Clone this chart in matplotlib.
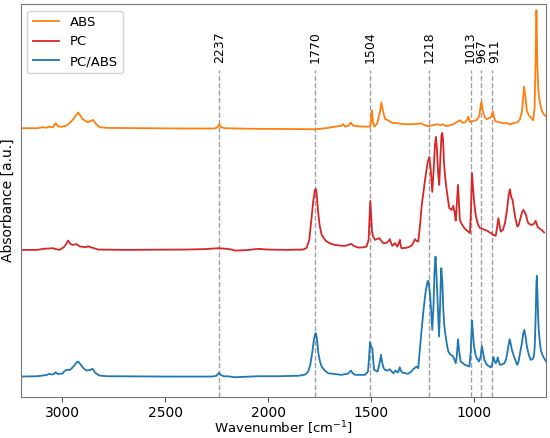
import numpy as np
import matplotlib
matplotlib.use('Agg')
import matplotlib.pyplot as plt

# ABS spectrum (wavenumber, absorbance above its baseline)
abs_wn = [3200, 3120, 3094, 3075, 3064, 3045, 3031, 3020, 3000, 2975, 2950, 2922, 2900, 2875, 2850,
          2830, 2817, 2780, 2600, 2400, 2260, 2245, 2237, 2228, 2210, 2100, 2000, 1900, 1800, 1770,
          1720, 1700, 1660, 1643, 1635, 1625, 1610, 1598, 1588, 1560, 1520, 1505, 1500, 1496, 1490,
          1484, 1470, 1458, 1450, 1443, 1432, 1418, 1400, 1376, 1340, 1297, 1270, 1259, 1245, 1224,
          1200, 1175, 1162, 1153, 1133, 1100, 1069, 1055, 1044, 1035, 1028, 1022, 1017, 1000, 988,
          975, 968, 964, 958, 948, 939, 923, 915, 909, 904, 897, 890, 860, 842, 825,
          810, 790, 777, 768, 762, 757, 751, 744, 735, 729, 713, 706, 701, 697, 693,
          688, 680, 670, 660, 650]
abs_y = [0, 0, 1, 0.5, 1.5, 0.8, 5, 1.8, 1.5, 3, 8, 15.7, 9, 6, 8.3,
         3, 1, 0.3, 0, -0.3, -0.3, 1, 4, 1, 0, -0.5, -0.7, -0.8, -1, -1,
         0, 0.7, 2, 2.5, 4, 1.5, 2.5, 5.7, 2.5, 1.8, 1.6, 1.5, 8, 17.7, 5,
         1.5, 5, 15, 25.7, 18, 9, 8, 5.5, 5, 4, 4, 4.5, 5, 3.5, 2,
         3, 4, 3, 4, 2, 4, 8, 5.5, 5.7, 8, 11.7, 7, 6, 7.5, 8,
         12, 22, 26, 18, 11, 9, 10.7, 12, 16.7, 12, 7, 6.7, 5, 5, 4,
         5, 6, 9, 16, 30, 41.7, 32, 18, 13, 11.7, 8, 20, 70, 118, 65,
         38, 25, 17, 13.5, 11.7]

# PC spectrum
pc_wn = [3200, 3120, 3092, 3060, 3044, 3025, 3011, 2990, 2980, 2971, 2960, 2950, 2930, 2915, 2898,
         2885, 2874, 2860, 2850, 2825, 2700, 2400, 2300, 2243, 2200, 2175, 2161, 2100, 2050, 2000,
         1900, 1830, 1813, 1800, 1790, 1780, 1772, 1769, 1765, 1758, 1750, 1740, 1720, 1700, 1676,
         1640, 1620, 1605, 1595, 1585, 1562, 1540, 1522, 1512, 1508, 1504, 1500, 1495, 1490, 1481,
         1470, 1460, 1450, 1441, 1425, 1415, 1409, 1403, 1397, 1384, 1373, 1365, 1360, 1356, 1352,
         1330, 1311, 1300, 1287, 1280, 1271, 1262, 1255, 1238, 1225, 1217, 1210, 1203, 1196, 1190,
         1185, 1180, 1175, 1169, 1164, 1158, 1154, 1150, 1146, 1140, 1133, 1125, 1120, 1109, 1101,
         1095, 1089, 1084, 1078, 1073, 1069, 1060, 1052, 1040, 1028, 1020, 1015, 1010, 1005, 999,
         993, 987, 980, 971, 960, 947, 935, 923, 915, 907, 895, 890, 882, 876, 870,
         860, 850, 840, 832, 826, 820, 813, 807, 801, 790, 783, 777, 768, 761, 755,
         748, 742, 737, 728, 720, 710, 701, 696, 691, 685, 680, 672, 664, 660]
pc_y = [0, 0, 1, 1.5, 1.7, 0.5, 0, 3, 6, 9.3, 6, 5, 5.7, 3.5, 3,
        2.5, 3.7, 2.5, 2, 0.3, 0, 0.3, 0.8, 1.7, 1, 0.3, -0.7, -0.2, 1, 0.3,
        0, 0.3, 2, 10, 30, 50, 60, 61, 58, 40, 25, 15, 9, 6.5, 5,
        4, 4.2, 5.5, 6, 4, 2.3, 2.5, 3.3, 10, 30, 49, 35, 18, 13.3, 10,
        11, 11.7, 9, 6.7, 7, 9, 10.7, 7, 4, 6.7, 3.3, 7, 10, 4, 1.7,
        2, 3.3, 5, 10.7, 9, 8.3, 25, 43, 70, 88, 93, 80, 58, 80, 105,
        113, 100, 78, 65, 90, 115, 117, 108, 87, 72, 60, 48, 41.7, 40, 44,
        38, 29.3, 45, 65, 45, 30, 26, 23.3, 20, 18.3, 16.7, 40, 76.7, 62, 46.7,
        36, 30, 25, 21.7, 21, 20, 19, 17.3, 16.5, 15, 14, 20, 31.7, 24, 18.3,
        20, 26.7, 40, 55, 60.7, 53, 50, 42, 33.3, 23.3, 25, 30, 37, 40, 38,
        35, 30, 26.7, 25.5, 25, 26, 29, 26, 22.7, 22, 21, 20, 18.3, 17.5]

# PC/ABS blend spectrum
blend_wn = [3200, 3120, 3092, 3075, 3063, 3051, 3040, 3031, 3022, 3015, 2998, 2990, 2979, 2965, 2959,
            2945, 2930, 2922, 2910, 2895, 2881, 2865, 2852, 2840, 2820, 2780, 2500, 2270, 2250, 2239,
            2230, 2215, 2200, 2160, 2100, 2050, 1950, 1850, 1820, 1805, 1795, 1786, 1778, 1772, 1769,
            1764, 1756, 1748, 1740, 1725, 1708, 1643, 1610, 1605, 1598, 1590, 1578, 1530, 1515, 1510,
            1505, 1500, 1494, 1489, 1485, 1468, 1460, 1452, 1446, 1440, 1433, 1420, 1409, 1400, 1392,
            1381, 1371, 1365, 1361, 1355, 1349, 1320, 1305, 1295, 1285, 1279, 1271, 1262, 1255, 1247,
            1235, 1226, 1222, 1214, 1208, 1203, 1197, 1192, 1187, 1182, 1176, 1170, 1165, 1161, 1159,
            1154, 1150, 1145, 1138, 1130, 1125, 1115, 1104, 1095, 1089, 1084, 1078, 1072, 1065, 1044,
            1023, 1016, 1010, 1005, 1000, 993, 987, 976, 968, 962, 956, 950, 940, 931, 919,
            912, 906, 901, 895, 890, 885, 880, 874, 865, 853, 845, 839, 832, 827, 822,
            817, 806, 797, 790, 784, 777, 768, 762, 756, 750, 745, 740, 733, 725, 715,
            709, 705, 701, 697, 695, 692, 688, 686, 681, 676, 668, 660, 650]
blend_y = [0, 0.3, 1, 1.5, 2.7, 2, 2.5, 4.3, 2.5, 2.7, 3, 5, 6.7, 6.5, 7,
           10, 14, 15, 12, 8, 6, 6.5, 7.7, 4, 1, 0.3, 0, 0, 0.8, 3.7,
           1.5, 0.3, 0.3, -0.7, -0.2, 0.3, 0.3, 0.8, 2, 5, 12, 23.3, 36, 42, 43.3,
           40, 23.3, 15, 10, 6, 3.3, 1.7, 3, 4.5, 6, 3.5, 1.7, 1.7, 5, 18,
           34.3, 30, 28.3, 15, 6.7, 5, 12, 21.7, 14, 9, 6.7, 6, 7.3, 5, 3.3,
           6, 4, 6, 9.3, 6, 4, 2.7, 5, 7.3, 9, 10, 8.3, 30, 45, 63.3,
           85, 95, 95.7, 83.3, 65, 46.7, 70, 105, 120, 100, 70, 40, 70, 100, 108.3,
           95, 70, 52, 40, 30, 25, 22, 20.7, 17, 13.3, 20, 37.3, 25, 15, 11.7,
           10, 25, 56, 42, 30, 22, 18.3, 15, 20, 30.7, 24, 16.7, 12.5, 10.7, 9.3,
           12, 19.3, 16, 13.3, 15, 19.3, 15, 11.7, 12, 13.3, 17, 23.3, 32, 37.3, 33,
           27.3, 20, 15, 11.7, 15, 23.3, 33, 42, 46.7, 40, 32, 26.7, 21, 16.7, 17.5,
           20.7, 32, 60, 95, 100.7, 80, 55, 46.7, 35, 26.7, 21.5, 18.3, 15]

names = ['ABS', 'PC', 'PC/ABS']
offsets = [268.7, 147, 20.3]
peaks = [2237, 1770, 1504, 1218, 1013, 967, 911]
# small nudges so the crowded labels don't collide
label_shift = {1013: 8, 967: -4, 911: -12}

fig = plt.figure(figsize=(5.5, 4.38), dpi=100)
ax = fig.add_axes([0.038, 0.094, 0.955, 0.897])

ax.plot(abs_wn, np.array(abs_y) + offsets[0], color='#ff7f0e', lw=1.3, label=names[0])
ax.plot(pc_wn, np.array(pc_y) + offsets[1], color='#d62728', lw=1.3, label=names[1])
ax.plot(blend_wn, np.array(blend_y) + offsets[2], color='#1f77b4', lw=1.3, label=names[2])

for p in peaks:
    ax.vlines(p, 0, 327, colors='#a0a0a0', linestyles='--', lw=1, zorder=0)
    ax.text(p + label_shift.get(p, 0), 334, str(p), rotation=90, ha='center', va='bottom', fontsize=9)

ax.set_xlim(3200, 650)
ax.set_ylim(0, 393)
ax.set_yticks([])
ax.set_xticks([3000, 2500, 2000, 1500, 1000])
ax.tick_params(axis='x', labelsize=10, colors='#555555', labelcolor='black', pad=3)
for s in ax.spines.values():
    s.set_color('#777777')
ax.set_xlabel('Wavenumber [cm$^{-1}$]', fontsize=9.5, labelpad=0)
ax.set_ylabel('Absorbance [a.u.]', fontsize=10, labelpad=4)
ax.legend(loc='upper left', fontsize=9.5)

fig.savefig('out.png', dpi=100)
